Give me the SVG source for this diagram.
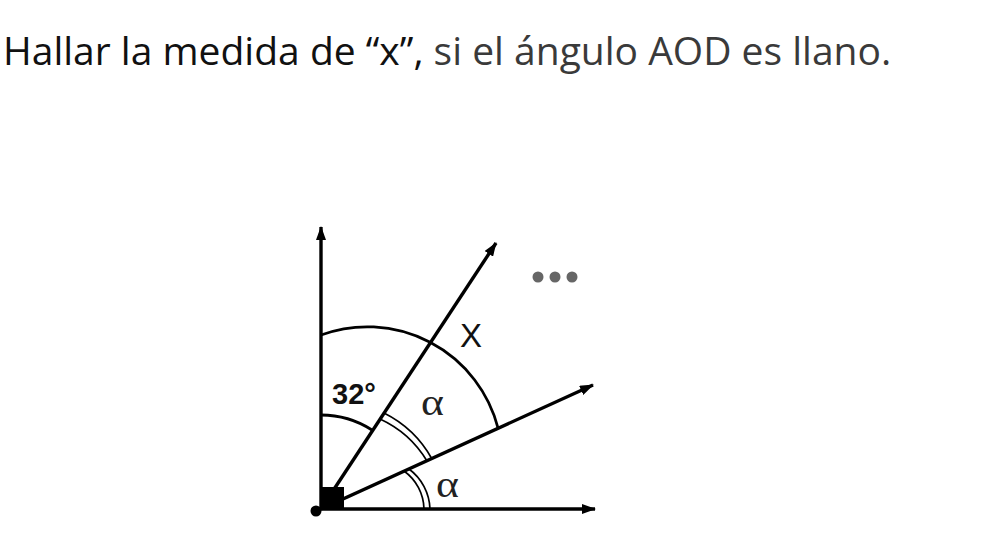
<svg xmlns="http://www.w3.org/2000/svg" width="989" height="560" viewBox="0 0 989 560">
<defs>
<marker id="ah" viewBox="0 0 14 10" refX="13" refY="5" markerWidth="14" markerHeight="10" markerUnits="userSpaceOnUse" orient="auto">
<path d="M0,0 L14,5 L0,10 Z" fill="#000"/>
</marker>
<style>
.ttl{font-family:"Open Sans","Noto Sans",sans-serif;font-size:39px}
.ax{stroke:#000;stroke-width:3.4;fill:none;marker-end:url(#ah)}
.arc{stroke:#000;stroke-width:2.8;fill:none}
.thin{stroke:#000;stroke-width:1.7;fill:none}
.lbl{font-family:"Liberation Sans",Arial,sans-serif;fill:#111}
.greek{font-family:"Liberation Serif","Times New Roman",serif;fill:#222;font-size:38px}
</style>
</defs>
<rect width="989" height="560" fill="#fff"/>
<g id="title">
<text class="ttl" x="3" y="65"><tspan fill="#111">Hallar la medida de “x”,</tspan><tspan fill="#3a3a3a"> si el ángulo AOD es llano.</tspan></text>
</g>
<g id="connectors">
<line class="ax" x1="321" y1="509" x2="321" y2="227"/>
<line class="ax" x1="321" y1="509" x2="595" y2="509"/>
<line class="ax" x1="321" y1="509" x2="496" y2="243"/>
<line class="ax" x1="321" y1="509" x2="593" y2="385"/>
</g>
<g id="arcs">
<path class="arc" d="M321,335 A135,135 0 0,1 498,428"/>
<path class="arc" d="M321,415 A94,94 0 0,1 372,430"/>
<path class="thin" d="M384,413 A112,112 0 0,1 432,459"/>
<path class="thin" d="M380,419 A107,107 0 0,1 427,461"/>
<path class="thin" d="M409,469 A52,52 0 0,1 430,509"/>
<path class="thin" d="M404,471 A48,48 0 0,1 424,509"/>
</g>
<g id="vertex">
<rect x="320" y="487" width="24" height="23" fill="#000"/>
<circle cx="316" cy="511" r="5.5" fill="#000"/>
</g>
<g id="labels">
<text class="lbl" x="332" y="404" font-size="29" font-weight="bold">32°</text>
<text class="lbl" x="460" y="347" font-size="33">X</text>
<text class="greek" x="421" y="415" transform="translate(421 0) scale(1.15 1) translate(-421 0)">α</text>
<text class="greek" x="436" y="497" transform="translate(436 0) scale(1.15 1) translate(-436 0)">α</text>
</g>
<g id="more" fill="#666">
<circle cx="538" cy="277" r="5.5"/>
<circle cx="555" cy="277" r="5.5"/>
<circle cx="572" cy="277" r="5.5"/>
</g>
</svg>
